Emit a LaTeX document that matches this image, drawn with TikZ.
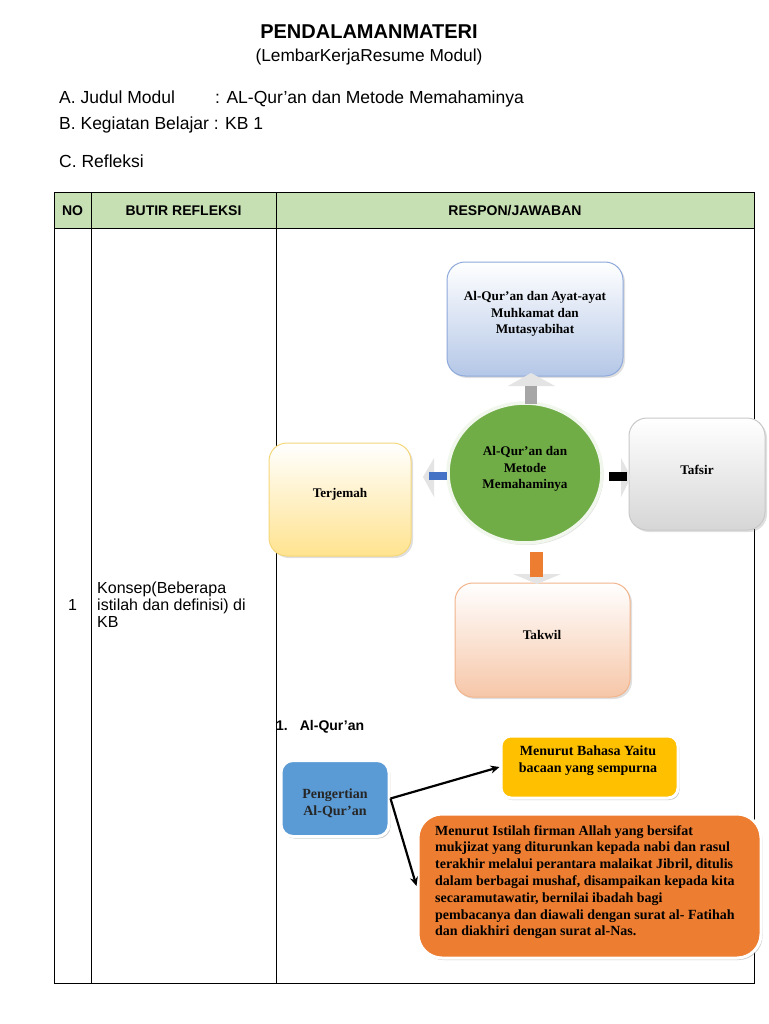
\documentclass[tikz,border=0pt]{standalone}
\usepackage{fontspec}
\setmainfont{Liberation Sans}
\newfontfamily\boxfont{Liberation Serif}
\usetikzlibrary{shadows,shapes.geometric,arrows.meta}
\definecolor{hdrgreen}{HTML}{C6E0B4}
\definecolor{topblue}{HTML}{B4C7E7}
\definecolor{topblueline}{HTML}{8EA9DB}
\definecolor{yelbot}{HTML}{FFE38F}
\definecolor{yelline}{HTML}{F5D77A}
\definecolor{graybot}{HTML}{D6D6D6}
\definecolor{grayline}{HTML}{C8C8C8}
\definecolor{peachbot}{HTML}{F6C6A8}
\definecolor{peachline}{HTML}{F2B48C}
\definecolor{circgreen}{HTML}{70AD47}
\definecolor{pengblue}{HTML}{5B9BD5}
\definecolor{bahasayel}{HTML}{FFC000}
\definecolor{istorange}{HTML}{ED7D31}
\definecolor{arrgray}{HTML}{A6A6A6}
\definecolor{arrblue}{HTML}{4472C4}
\definecolor{arrorange}{HTML}{ED7D31}
\definecolor{headlight}{HTML}{E4E4E4}
\tikzset{
  hdrtxt/.style={font=\fontsize{14}{16}\selectfont\bfseries},
  bodytxt/.style={font=\fontsize{17.5}{20}\selectfont, anchor=base west, inner sep=0pt},
  gbox/.style={rounded corners=18pt, line width=1pt, inner sep=0pt,
    drop shadow={shadow xshift=2pt, shadow yshift=-2pt, opacity=0.25}},
  btxt/.style={font=\boxfont\fontsize{13.2}{16.8}\selectfont\bfseries, align=center, inner sep=0pt},
  ltxt/.style={font=\boxfont\fontsize{14}{16.8}\selectfont\bfseries, align=center, inner sep=0pt},
  lbox/.style={line width=3pt, draw=white, inner sep=0pt,
    drop shadow={shadow xshift=1.5pt, shadow yshift=-2pt, opacity=0.4}},
  conn/.style={line width=2.2pt, -{Stealth[length=9pt,width=8pt]}},
}
\begin{document}
\begin{tikzpicture}[x=1pt,y=-1pt]
\useasboundingbox[fill=white] (0,0) rectangle (768,1024);
% heading
\node[font=\fontsize{20}{23}\selectfont\bfseries] (title) at (369,32) {PENDALAMANMATERI};
\node[font=\fontsize{17.3}{20}\selectfont] (sub) at (369,57) {(LembarKerjaResume Modul)};
\node[bodytxt] (ja) at (59,104) {A. Judul Modul};
\node[bodytxt] (jb) at (215,104) {: AL-Qur’an dan Metode Memahaminya};
\node[bodytxt] (kb) at (59,130) {B. Kegiatan Belajar : KB 1};
\node[bodytxt] (rf) at (59,168) {C. Refleksi};
% table
\fill[hdrgreen] (54,193) rectangle (754,229);
\draw[line width=1pt] (54,193) rectangle (754,983);
\draw[line width=1pt] (54,229) -- (754,229);
\draw[line width=1pt] (91,193) -- (91,983);
\draw[line width=1pt] (276,193) -- (276,983);
\node[hdrtxt] (hno) at (72.5,211) {NO};
\node[hdrtxt] (hbr) at (183.5,211) {BUTIR REFLEKSI};
\node[hdrtxt] (hrj) at (515,211) {RESPON/JAWABAN};
\node[font=\fontsize{16}{17}\selectfont] (n1) at (72.5,605) {1};
\node[font=\fontsize{16}{17}\selectfont, anchor=west, align=left, inner sep=0pt] (konsep) at (97,605)
  {Konsep(Beberapa\\istilah dan definisi) di\\KB};
% diagram: boxes
\node[gbox, top color=white, bottom color=topblue, draw=topblueline,
  minimum width=176pt, minimum height=114pt] (ayat) at (535,319) {};
\node[btxt] (ayatt) at (535,314) {Al-Qur’an dan Ayat-ayat\\Muhkamat dan\\Mutasyabihat};
\node[gbox, top color=white, bottom color=yelbot, draw=yelline,
  minimum width=142pt, minimum height=113pt] (terj) at (340,499.5) {};
\node[btxt] (terjt) at (340,494) {Terjemah};
\node[gbox, top color=white, bottom color=graybot, draw=grayline,
  minimum width=136pt, minimum height=112pt] (tafs) at (697,474) {};
\node[btxt] (tafst) at (697,470) {Tafsir};
\node[gbox, top color=white, bottom color=peachbot, draw=peachline,
  minimum width=175pt, minimum height=114pt] (takw) at (542.5,640) {};
\node[btxt] (takwt) at (542,635) {Takwil};
% circle
\node[ellipse, fill=circgreen, draw=white!90!circgreen, line width=3.5pt,
  minimum width=154pt, minimum height=140pt, inner sep=0pt,
  drop shadow={shadow xshift=1.5pt, shadow yshift=-2pt, opacity=0.25}] (circ) at (525,473) {};
\node[btxt] (circt) at (525,469) {Al-Qur’an dan\\Metode\\Memahaminya};
% block arrows
% up (gray)
\fill[headlight] (508,386) -- (531,373) -- (555,386) -- cycle;
\fill[arrgray] (525,386) rectangle (537,404);
% left (blue)
\fill[headlight] (434,458) -- (423,477) -- (434,497) -- cycle;
\fill[arrblue] (429,472) rectangle (447,480);
% right (black)
\fill[headlight] (621,458) -- (631,477) -- (621,497) -- cycle;
\fill[black] (609,472) rectangle (627,481);
% down (orange)
\fill[headlight] (513,574) -- (537,584) -- (561,574) -- cycle;
\fill[arrorange] (530,552) rectangle (543,577);
% lower part
\node[font=\fontsize{14}{16}\selectfont\bfseries, anchor=west, inner sep=0pt] (alq) at (276,727) {1.\hspace{12pt}Al-Qur’an};
\node[lbox, fill=pengblue, rounded corners=12pt, minimum width=108pt, minimum height=76pt] (peng) at (335,798.5) {};
\node[ltxt, text=black!85] (pengt) at (335,803) {Pengertian\\Al-Qur’an};
\node[lbox, fill=bahasayel, rounded corners=10pt, minimum width=177pt, minimum height=62pt] (bahasa) at (589.5,767) {};
\node[ltxt] (bahasat) at (588,760.5) {Menurut Bahasa Yaitu\\bacaan yang sempurna};
\node[lbox, fill=istorange, rounded corners=24pt, minimum width=343pt, minimum height=144pt] (istilah) at (589.5,886) {};
\node[ltxt, align=left, anchor=north west] (istilaht) at (435,825)
  {Menurut Istilah firman Allah yang bersifat\\
   mukjizat yang diturunkan kepada nabi dan rasul\\
   terakhir melalui perantara malaikat Jibril, ditulis\\
   dalam berbagai mushaf, disampaikan kepada kita\\
   secaramutawatir, bernilai ibadah bagi\\
   pembacanya dan diawali dengan surat al- Fatihah\\
   dan diakhiri dengan surat al-Nas.};
\draw[conn] (peng.east) -- (bahasa.west);
\draw[conn] (peng.east) -- (istilah.west);
\end{tikzpicture}
\end{document}
